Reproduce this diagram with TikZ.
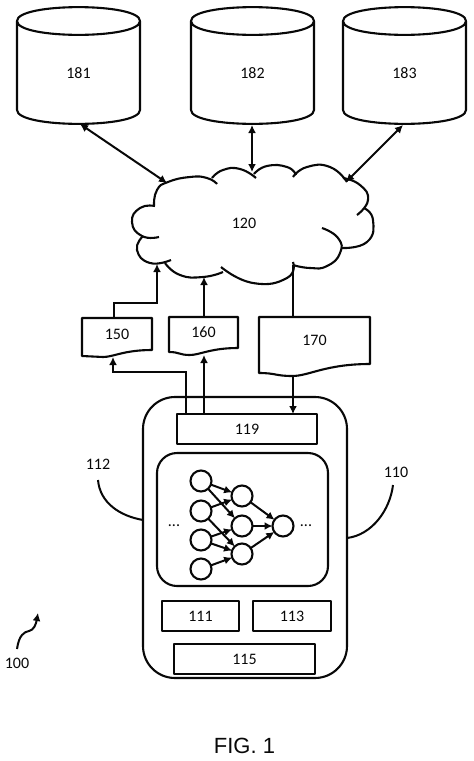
\documentclass[tikz,border=0pt]{standalone}
\usepackage{fontspec}
\setmainfont{Carlito}
\newfontfamily\figfont{Liberation Sans}
\usetikzlibrary{calc,arrows.meta}
\definecolor{inkBlack}{RGB}{8,8,8}
\newcommand{\docshape}[8]{
  \pgfmathsetmacro{\docw}{#4-#2}
  \pgfmathsetmacro{\docxa}{#2+0.6*\docw}
  \pgfmathsetmacro{\docxb}{#2+0.45*\docw}
  \pgfmathsetmacro{\docxc}{#2+0.3*\docw}
  \pgfmathsetmacro{\docxd}{#2+0.15*\docw}
  \pgfmathsetmacro{\docyc}{#5+#7}
  \pgfmathsetmacro{\docyd}{#5+#6}
  \node[lbl] (#1) at ({(#2+#4)/2},{(#3+#5)/2}) {#8};
  \draw[shp] (#2,#3) -- (#4,#3) -- (#4,#5)
    .. controls (\docxa,#5) and (\docxb,\docyc) .. (\docxc,\docyc)
    .. controls (\docxd,\docyc) and (\docxd,\docyd) .. (#2,\docyd) -- cycle;
}
\begin{document}
\begin{tikzpicture}[x=1pt,y=-1pt,
  lbl/.style={font=\fontsize{16}{18}\selectfont,text=inkBlack,inner sep=0pt},
  shp/.style={draw=inkBlack,line width=2.1pt,line join=round},
  conn/.style={draw=inkBlack,line width=2pt,-{Latex[length=8pt,width=8pt]}},
  twoway/.style={draw=inkBlack,line width=2pt,{Latex[length=8pt,width=8pt]}-{Latex[length=8pt,width=8pt]}},
  plain/.style={draw=inkBlack,line width=2pt},
  boxn/.style={lbl,shp,rectangle,outer sep=0pt},
  neuron/.style={shp,circle,minimum size=21pt,inner sep=0pt,outer sep=0pt}]
\useasboundingbox (0,0) rectangle (474,761);

\foreach \nm/\cx in {181/78.5,182/252.5,183/404.5}{
  \node[lbl] (db\nm) at (\cx,73) {\nm};
  \draw[shp] (\cx-61.5,21) .. controls (\cx-61.5,2.5) and (\cx+61.5,2.5) .. (\cx+61.5,21)
    .. controls (\cx+61.5,39.5) and (\cx-61.5,39.5) .. (\cx-61.5,21)
    -- (\cx-61.5,110) .. controls (\cx-61.5,128.5) and (\cx+61.5,128.5) .. (\cx+61.5,110) -- (\cx+61.5,21);
}

\node[lbl] (cloud) at (244,223) {120};
\draw[shp] plot[smooth,tension=0.9] coordinates {(154,205) (157,190) (168,182) (190,177) (207,178) (217,184)};
\draw[shp] plot[smooth,tension=0.9] coordinates {(212,178) (223,170) (240,169) (256,178)};
\draw[shp] plot[smooth,tension=0.9] coordinates {(254,174) (267,166) (287,167) (296,175)};
\draw[shp] plot[smooth,tension=0.9] coordinates {(293,177) (307,167) (330,167) (347,182)};
\draw[shp] plot[smooth,tension=0.9] coordinates {(343,178) (360,185) (368,200) (357,215)};
\draw[shp] plot[smooth,tension=0.9] coordinates {(364,208) (373,220) (367,242) (341,248)};
\draw[shp] plot[smooth,tension=0.9] coordinates {(322,228) (338,238) (340,253) (327,266) (310,268) (293,265)};
\draw[shp] plot[smooth,tension=0.9] coordinates {(293,262) (287,278) (253,283) (221,267)};
\draw[shp] plot[smooth,tension=0.9] coordinates {(223,272) (203,277) (180,275) (165,263)};
\draw[shp] plot[smooth,tension=0.9] coordinates {(171,260) (150,263) (137,250) (143,236)};
\draw[shp] plot[smooth,tension=0.9] coordinates {(159,237) (142,236) (132,222) (140,208) (155,206)};

\docshape{doc150}{82}{318}{152}{350}{6}{7}{150}
\docshape{doc160}{169}{317}{238}{348}{4}{7}{160}
\docshape{doc170}{259}{317}{370}{364}{9}{12}{170}

\draw[shp,rounded corners=32pt] (143,397) rectangle (347,678);
\coordinate (devW) at (143,520);
\coordinate (devE) at (347,538);
\node[boxn,minimum width=140pt,minimum height=30pt] (box119) at (247,429) {119};
\draw[shp,rounded corners=20pt] (157,453) rectangle (328,586);
\node[boxn,minimum width=77pt,minimum height=30pt] (box111) at (200.5,616) {111};
\node[boxn,minimum width=78pt,minimum height=30pt] (box113) at (292,616) {113};
\node[boxn,minimum width=141pt,minimum height=30pt] (box115) at (244.5,659) {115};

\foreach \i/\y in {1/481,2/511,3/540,4/569}{
  \node[neuron] (a\i) at (201,\y) {};
}
\foreach \i/\y in {1/496,2/526,3/554}{
  \node[neuron] (b\i) at (242,\y) {};
}
\node[neuron] (c1) at (283,526) {};
\foreach \s/\t in {a1/b1,a1/b2,a2/b1,a2/b3,a3/b2,a3/b3,a4/b3,b1/c1,b2/c1,b3/c1}{
  \draw[conn] (\s) -- (\t);
}
\node[lbl] (dotsL) at (174,526) {...};
\node[lbl] (dotsR) at (306,526) {...};

\coordinate (cl181) at (167,183);
\coordinate (cl182) at (252,172);
\coordinate (cl183) at (346,182);
\coordinate (db181in) at (80,124);
\coordinate (db182in) at (252,125);
\coordinate (db183in) at (403,125);
\draw[twoway] (db181in) -- (cl181);
\draw[twoway] (db182in) -- (cl182);
\draw[twoway] (db183in) -- (cl183);

\coordinate (cl150) at (157,264);
\coordinate (cl160) at (204,277);
\coordinate (cl170) at (293,265);
\coordinate (out150) at (114,318);
\coordinate (out160) at (204,317);
\coordinate (out170) at (293,317);
\coordinate (in150) at (113,357);
\coordinate (in160) at (204,355);
\coordinate (in170) at (293,376);
\coordinate (tap150) at (186,414);
\coordinate (tap160) at (204,414);
\coordinate (tap170) at (293,414);
\draw[conn] (out150) -- ++(0,-15) -| (cl150);
\draw[conn] (out160) -- (cl160);
\draw[plain] (cl170) -- (out170);
\draw[conn] (tap150) -- ++(0,-42) -| (in150);
\draw[conn] (tap160) -- (in160);
\draw[conn] (in170) -- (tap170);

\node[lbl] (lab112) at (98,464) {112};
\node[lbl] (lab110) at (396,472) {110};
\node[lbl] (lab100) at (17,663) {100};
\coordinate (lead112) at (98,480);
\coordinate (lead110) at (393,485);
\coordinate (lead100) at (17,649);
\coordinate (tip100) at (38,613);
\draw[plain] (lead112) .. controls (100,503) and (120,516) .. (devW);
\draw[plain] (lead110) .. controls (390,510) and (372,535) .. (devE);
\draw[conn] (lead100) .. controls (19,635) and (24,632) .. (29,631) .. controls (34,630) and (36,624) .. (tip100);

\node[font=\figfont\fontsize{22}{25}\selectfont,text=inkBlack,inner sep=0pt] (figlab) at (244.5,746) {FIG. 1};
\end{tikzpicture}
\end{document}
